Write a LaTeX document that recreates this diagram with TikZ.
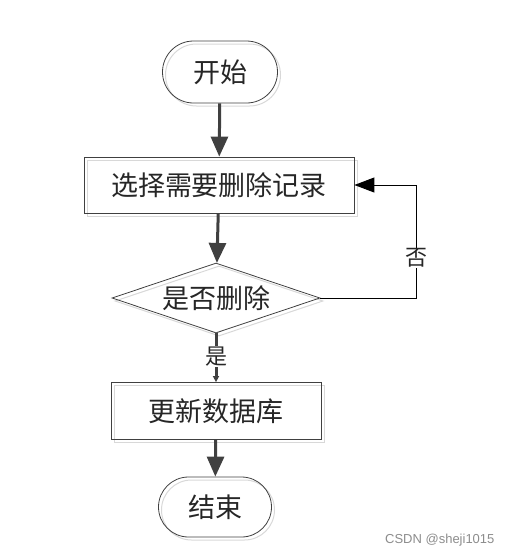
\documentclass[tikz,border=0pt]{standalone}
\usepackage{fontspec}
\newfontfamily\cjk{Noto Sans CJK SC}
\setsansfont{Liberation Sans}
\usetikzlibrary{arrows.meta,shapes.geometric,shapes.misc}
\definecolor{arr}{HTML}{404040}
\definecolor{shd}{HTML}{D8D8D8}
\tikzset{
  base/.style={draw=arr, line width=0.8pt, font=\cjk\fontsize{27}{27}\selectfont, text=black!85, inner sep=0pt,
    preaction={draw=shd, line width=1pt, transform canvas={xshift=3pt,yshift=-3pt}}},
  term/.style={base, rounded rectangle, minimum width=115pt, minimum height=62pt},
  proc/.style={base, rectangle, minimum height=56pt},
  dec/.style={base, diamond, aspect=3},
  flow/.style={draw=arr, line width=3pt, -{Triangle[length=20pt,width=17pt]}},
  back/.style={draw=black, line width=1pt, -{Triangle[length=20pt,width=15pt]}},
  lab/.style={font=\cjk\fontsize{22}{22}\selectfont, text=black!85, fill=white, inner sep=1pt}
}
\begin{document}
\begin{tikzpicture}[x=1pt,y=-1pt]
\useasboundingbox (0,0) rectangle (513,558);
\node[term] (start) at (220,72) {开始};
\node[proc, minimum width=270pt] (sel) at (219,185) {选择需要删除记录};
\node[dec, minimum width=208pt, minimum height=70pt] (ask) at (216,298) {是否删除};
\node[proc, minimum width=210pt, minimum height=57pt] (upd) at (216,411) {更新数据库};
\node[term, minimum width=113pt, minimum height=60pt] (fin) at (215,507) {结束};
\coordinate (c1) at (416,298);
\coordinate (c2) at (416,185);
\draw[flow] (start) -- (sel);
\draw[flow] (sel) -- (ask);
\draw[flow] (upd) -- (fin);
\draw[draw=arr, line width=3pt, -{Triangle[length=6pt,width=6pt]}] (ask.south) -- (upd.north)
  node[lab, pos=0.47] {是};
\draw[back] (ask.east) -- (c1) -- (c2) -- (sel.east);
\node[lab] (no) at (416,258) {否};
\node[font=\sffamily\fontsize{13}{13}\selectfont, text=black!45, anchor=east] (wm) at (498,540) {CSDN @sheji1015};
\end{tikzpicture}
\end{document}
